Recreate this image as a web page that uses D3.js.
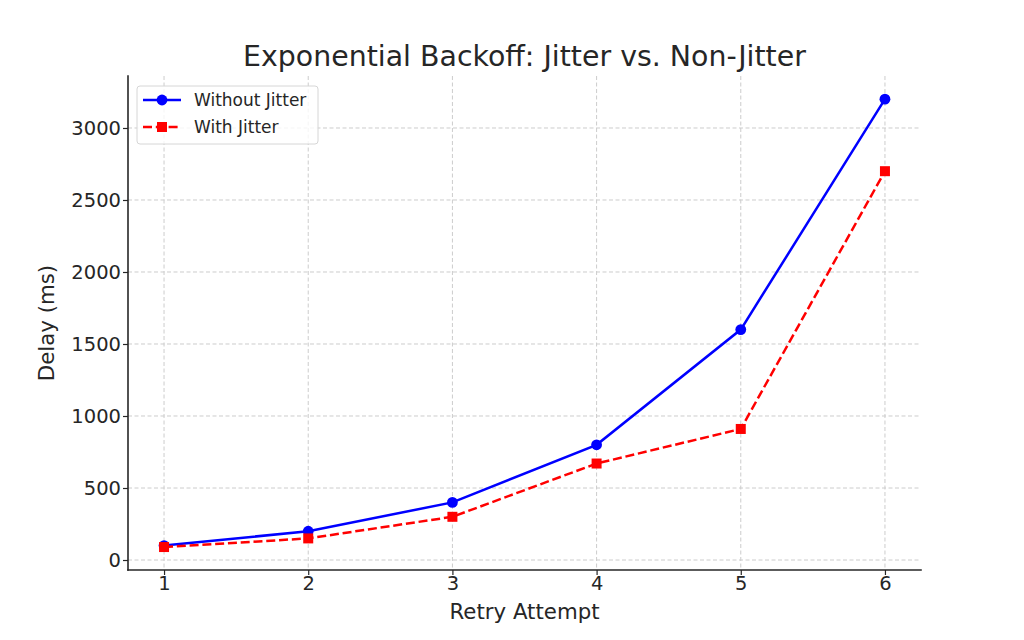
<!DOCTYPE html>
<html><head><meta charset="utf-8">
<script src="https://cdn.jsdelivr.net/npm/d3@7"></script>
<style>body{margin:0;background:#fff}svg{display:block}text{font-family:"DejaVu Sans",sans-serif;fill:#262626}</style>
</head><body><svg id="c" width="1024" height="640"></svg>
<script>
const attempts = [1, 2, 3, 4, 5, 6];
const withoutJitter = [100, 200, 400, 800, 1600, 3200];
const withJitter = [90, 150, 300, 670, 910, 2700];
const yTicks = [0, 500, 1000, 1500, 2000, 2500, 3000];
const seriesNames = ["Without Jitter", "With Jitter"];

const svg = d3.select("#c");
const L = 128, R = 921, T = 76, B = 570;
const x = d3.scaleLinear().domain([0.75, 6.25]).range([L, R]);
const y = d3.scaleLinear().domain([-69.4, 3361]).range([B, T]);

// grid
const g = svg.append("g");
g.selectAll(".gx").data(attempts).enter().append("line")
  .attr("x1", d => x(d)).attr("x2", d => x(d)).attr("y1", T).attr("y2", B)
  .attr("stroke", "#cccccc").attr("stroke-width", 1).attr("stroke-dasharray", "4,2.5");
g.selectAll(".gy").data(yTicks).enter().append("line")
  .attr("x1", L).attr("x2", R).attr("y1", d => y(d)).attr("y2", d => y(d))
  .attr("stroke", "#cccccc").attr("stroke-width", 1).attr("stroke-dasharray", "4,2.5");

// axes
const xAxis = svg.append("g").attr("transform", `translate(0,${B})`)
  .call(d3.axisBottom(x).tickValues(attempts).tickFormat(d3.format("d")).tickSizeOuter(0).tickSize(5).tickPadding(1));
const yAxis = svg.append("g").attr("transform", `translate(${L},0)`)
  .call(d3.axisLeft(y).tickValues(yTicks).tickFormat(d3.format("d")).tickSizeOuter(0).tickSize(5).tickPadding(2));
[xAxis, yAxis].forEach(a => {
  a.select(".domain").remove();
  a.selectAll(".tick line").attr("stroke", "#262626").attr("stroke-width", 1.2);
  a.selectAll(".tick text").style("font-family", '"DejaVu Sans",sans-serif').style("font-size", "19.5px").attr("fill", "#262626");
});
svg.append("line").attr("x1", L).attr("x2", L).attr("y1", T).attr("y2", B)
  .attr("stroke", "#262626").attr("stroke-width", 1.6).attr("stroke-linecap", "square");
svg.append("line").attr("x1", L).attr("x2", R).attr("y1", B).attr("y2", B)
  .attr("stroke", "#262626").attr("stroke-width", 1.6).attr("stroke-linecap", "square");

// lines
const line = d3.line().x((d, i) => x(attempts[i])).y(d => y(d));
svg.append("path").datum(withoutJitter).attr("d", line).attr("fill", "none")
  .attr("stroke", "#0000ff").attr("stroke-width", 2.5);
svg.selectAll(".pc").data(withoutJitter).enter().append("circle")
  .attr("cx", (d, i) => x(attempts[i])).attr("cy", d => y(d)).attr("r", 5.4).attr("fill", "#0000ff");
svg.append("path").datum(withJitter).attr("d", line).attr("fill", "none")
  .attr("stroke", "#ff0000").attr("stroke-width", 2.5).attr("stroke-dasharray", "9,3.8");
svg.selectAll(".ps").data(withJitter).enter().append("rect")
  .attr("x", (d, i) => x(attempts[i]) - 5).attr("y", d => y(d) - 5).attr("width", 10).attr("height", 10).attr("fill", "#ff0000");

// title and labels
svg.append("text").attr("x", (L + R) / 2).attr("y", 66).attr("text-anchor", "middle")
  .style("font-size", "28.4px").text("Exponential Backoff: Jitter vs. Non-Jitter");
svg.append("text").attr("x", (L + R) / 2).attr("y", 619).attr("text-anchor", "middle")
  .style("font-size", "21.3px").text("Retry Attempt");
svg.append("text").attr("transform", `translate(54,${(T + B) / 2}) rotate(-90)`).attr("text-anchor", "middle")
  .style("font-size", "21.3px").text("Delay (ms)");

// legend
const lg = svg.append("g");
lg.append("rect").attr("x", 137).attr("y", 86).attr("width", 181).attr("height", 58).attr("rx", 3)
  .attr("fill", "#fff").attr("fill-opacity", 0.8).attr("stroke", "#d6d6d6").attr("stroke-width", 1);
lg.append("line").attr("x1", 143).attr("x2", 181).attr("y1", 100).attr("y2", 100).attr("stroke", "#0000ff").attr("stroke-width", 2.5);
lg.append("circle").attr("cx", 162).attr("cy", 100).attr("r", 5.4).attr("fill", "#0000ff");
lg.append("line").attr("x1", 143).attr("x2", 181).attr("y1", 127).attr("y2", 127).attr("stroke", "#ff0000").attr("stroke-width", 2.5).attr("stroke-dasharray", "9,3.8");
lg.append("rect").attr("x", 157).attr("y", 122).attr("width", 10).attr("height", 10).attr("fill", "#ff0000");
lg.selectAll(".lt").data(seriesNames).enter().append("text")
  .attr("x", 194).attr("y", (d, i) => 106 + i * 27).style("font-size", "17px").text(d => d);
</script></body></html>
